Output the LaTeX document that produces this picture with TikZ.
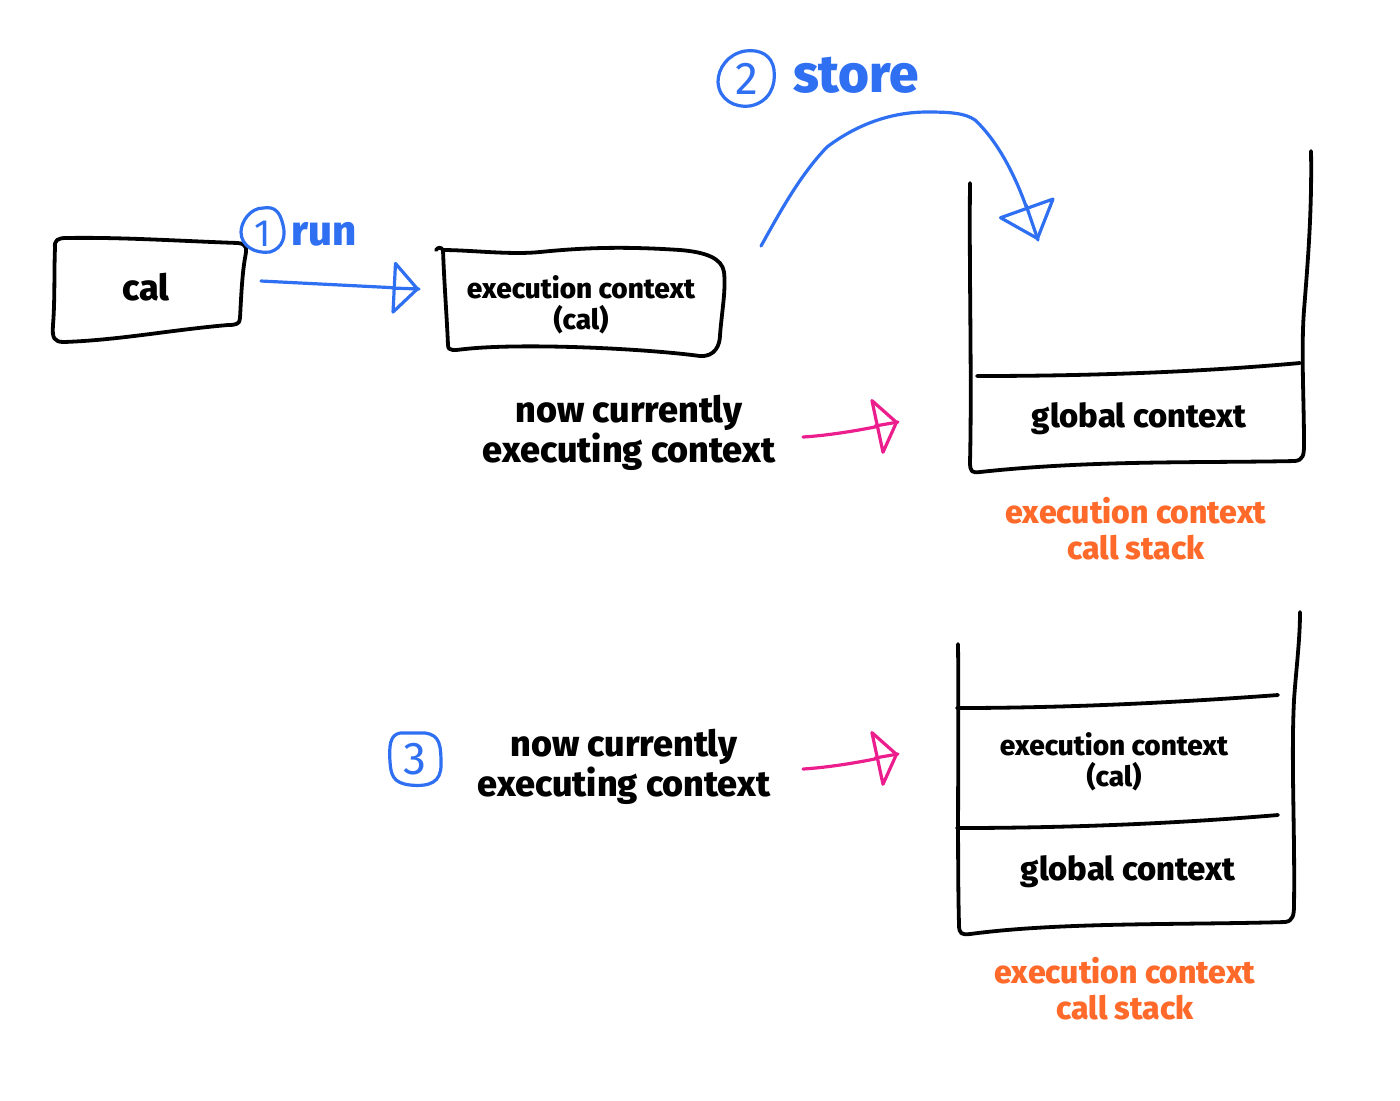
\documentclass[tikz,border=0pt]{standalone}
\usepackage{fontspec}
\setmainfont{Fira Sans}[BoldFont={Fira Sans ExtraBold}]
\usetikzlibrary{positioning,arrows.meta}
\definecolor{penblue}{HTML}{2F6FF2}
\definecolor{penpink}{HTML}{EC1E8E}
\definecolor{penorange}{HTML}{FF6A2B}
\tikzset{
  inkline/.style={line width=1.9pt,line cap=round,line join=round,black},
  blueline/.style={line width=1.6pt,line cap=round,line join=round,penblue},
  pinkline/.style={line width=1.6pt,line cap=round,line join=round,penpink},
  runtip/.style={-{Triangle[open,round,length=13.5pt,width=28pt]}},
  storetip/.style={-{Triangle[open,round,length=18pt,width=31pt]}},
  pinktip/.style={-{Triangle[open,round,length=11.5pt,width=31pt]}},
  bigtext/.style={align=center,inner sep=0pt,font=\fontsize{18}{20}\selectfont\bfseries},
  midtext/.style={align=center,inner sep=0pt,font=\fontsize{16.4}{20}\selectfont\bfseries},
  smalltext/.style={align=center,inner sep=0pt,font=\fontsize{14}{15.5}\selectfont\bfseries},
  stacktext/.style={align=center,inner sep=0pt,text=penorange,font=\fontsize{16}{18}\selectfont\bfseries},
  digit/.style={inner sep=0pt,text=penblue,font=\fontsize{23}{23}\selectfont}
}
\begin{document}
\begin{tikzpicture}[x=0.5pt,y=-0.5pt]
  \useasboundingbox (0,0) rectangle (1400,1100);
  \node (cal) [bigtext] at (146,287) {cal};
  \node (ctxa) [smalltext] at (581,305) {execution context\\(cal)};
  \node (nowa) [bigtext] at (629,433) {now currently\\executing context};
  \node (globala) [midtext] at (1139,419) {global context};
  \node (stacka) [stacktext, below=55pt of globala.center, anchor=center, xshift=-1.5pt] {execution context\\call stack};
  \node (numc) [digit] at (415,759) {3};
  \node (nowb) [bigtext] at (624,767) {now currently\\executing context};
  \node (ctxb) [smalltext] at (1114,762) {execution context\\(cal)};
  \node (globalb) [midtext] at (1128,872) {global context};
  \node (stackb) [stacktext, below=58.5pt of globalb.center, anchor=center, xshift=-1.5pt] {execution context\\call stack};
  \node (numa) [digit,font=\fontsize{19}{19}\selectfont] at (263,234) {1};
  \node (run) [bigtext,text=penblue,font=\fontsize{21}{21}\selectfont\bfseries] at (324,234) {run};
  \node (numb) [digit] at (747,79) {2};
  \node (store) [bigtext,text=penblue,font=\fontsize{26.5}{26.5}\selectfont\bfseries] at (856,75) {store};

  \draw[inkline] (55,248) .. controls (54,240) and (58,238) .. (66,238) .. controls (120,237) and (180,241) .. (238,243) .. controls (247,244) and (247,248) .. (245,258) .. controls (242,275) and (241,300) .. (240,318) .. controls (240,324) and (236,325) .. (228,325) .. controls (170,330) and (120,340) .. (64,342) .. controls (54,342) and (52,338) .. (53,325) .. controls (55,300) and (54,270) .. cycle;
  \draw[inkline] (436,250) .. controls (438,247) and (441,247) .. (443,250) .. controls (444,280) and (447,320) .. (448,345) .. controls (448,352) and (455,350) .. (465,349) .. controls (520,343) and (640,348) .. (700,356) .. controls (715,357) and (720,345) .. (720,335) .. controls (722,310) and (726,290) .. (724,272) .. controls (722,258) and (705,252) .. (680,250) .. controls (620,246) and (580,248) .. (540,252) .. controls (510,255) and (470,250) .. (443,250);
  \draw[inkline] (970,183) .. controls (969,270) and (972,380) .. (970,462) .. controls (970,472) and (972,473) .. (980,472) .. controls (1090,460) and (1200,463) .. (1295,461) .. controls (1303,460) and (1304,455) .. (1304,445) .. controls (1304,400) and (1301,350) .. (1304,310) .. controls (1308,260) and (1312,210) .. (1311,151);
  \draw[inkline] (977,376) .. controls (1090,376) and (1200,372) .. (1300,363);
  \draw[inkline] (958,644) .. controls (959,730) and (957,850) .. (959,925) .. controls (959,934) and (962,935) .. (970,934) .. controls (1060,922) and (1180,925) .. (1285,922) .. controls (1293,921) and (1294,915) .. (1294,905) .. controls (1295,830) and (1291,760) .. (1294,700) .. controls (1296,670) and (1300,640) .. (1300,612);
  \draw[inkline] (957,708) .. controls (1060,708) and (1170,703) .. (1278,695);
  \draw[inkline] (957,828) .. controls (1060,828) and (1170,824) .. (1278,815);

  \draw[blueline] (263,208) .. controls (250,208) and (241,222) .. (241,232) .. controls (241,246) and (255,254) .. (270,252) .. controls (283,248) and (286,236) .. (283,225) .. controls (280,212) and (275,206) .. (263,208);
  \draw[blueline] (745,51) .. controls (728,54) and (718,68) .. (718,82) .. controls (719,100) and (735,108) .. (750,106) .. controls (770,102) and (776,85) .. (774,70) .. controls (772,55) and (760,49) .. (745,51);
  \draw[blueline] (400,733) .. controls (390,735) and (389,745) .. (390,762) .. controls (391,775) and (393,783) .. (410,785) .. controls (430,787) and (441,782) .. (441,765) .. controls (441,745) and (440,735) .. (425,733) -- (400,733);

  \coordinate (runa) at (261,281);
  \coordinate (runm) at (392,288);
  \coordinate (runb) at (419,289);
  \coordinate (storea) at (761,246);
  \coordinate (storem) at (1026,205);
  \coordinate (storeb) at (1038,240);
  \coordinate (pointa) at (803,437);
  \coordinate (pointm) at (875,426);
  \coordinate (pointb) at (898,422);
  \coordinate (pointc) at (803,769);
  \coordinate (pointn) at (875,758);
  \coordinate (pointd) at (898,754);

  \draw[blueline,runtip] (runa) -- (runb);
  \draw[blueline] (runm) -- (runb);
  \draw[blueline,storetip] (storea) .. controls (780,212) and (800,175) .. (827,147) .. controls (860,122) and (895,112) .. (927,112) .. controls (950,112) and (965,113) .. (975,120) .. controls (1005,148) and (1022,195) .. (storeb);
  \draw[blueline] (storem) -- (storeb);
  \draw[pinkline,pinktip] (pointa) .. controls (835,435) and (870,428) .. (pointb);
  \draw[pinkline] (pointm) -- (pointb);
  \draw[pinkline,pinktip] (pointc) .. controls (835,767) and (870,760) .. (pointd);
  \draw[pinkline] (pointn) -- (pointd);
\end{tikzpicture}
\end{document}
